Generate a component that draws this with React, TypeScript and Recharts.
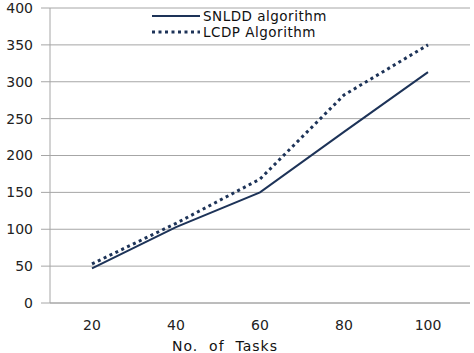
import React from 'react';
import { LineChart, Line, XAxis, YAxis, CartesianGrid, Label } from 'recharts';

// 値は図から読み取ったもの
const tasks = [20, 40, 60, 80, 100];
const snldd = [47, 103, 150, 232, 313];
const lcdp = [53, 108, 168, 282, 350];
const yTicks = [0, 50, 100, 150, 200, 250, 300, 350, 400];
const bandEdges = [10, 30, 50, 70, 90, 110];

const NAVY = '#1d3358';
const GRID = '#a6a6a6';

const data = tasks.map((t, i) => ({ tasks: t, snldd: snldd[i], lcdp: lcdp[i] }));

// 凡例は図の上に重ねる（プロット領域を押し下げないように）
const LegendBox = () => (
    <svg width={200} height={36} style={{ position: 'absolute', left: 150, top: 7 }}>
        <line x1={2} y1={9} x2={50} y2={9} stroke={NAVY} strokeWidth={2} />
        <text x={53} y={14} fontSize={13.5} letterSpacing={0.5} fontFamily="DejaVu Sans" fill="#111">SNLDD algorithm</text>
        <line x1={2} y1={25} x2={50} y2={25} stroke={NAVY} strokeWidth={3} strokeDasharray="3 3.5" />
        <text x={53} y={30} fontSize={13.5} letterSpacing={0.5} fontFamily="DejaVu Sans" fill="#111">LCDP Algorithm</text>
    </svg>
);

const App: React.FC = () => {
    return (
        <div style={{ position: 'absolute', left: 0, top: 0, width: 474, height: 353, background: '#fff' }}>
            <LineChart width={474} height={353} data={data} margin={{ top: 8, right: 4, bottom: 0, left: 0 }}>
                <CartesianGrid vertical={false} stroke={GRID} />
                {/* 区切り用の目盛り線だけの軸 */}
                <XAxis
                    xAxisId="edges"
                    type="number"
                    domain={[10, 110]}
                    ticks={bandEdges}
                    height={0}
                    axisLine={false}
                    tickLine={{ stroke: GRID }}
                    tickSize={6}
                    tickFormatter={() => ''}
                />
                <XAxis
                    dataKey="tasks"
                    type="number"
                    domain={[10, 110]}
                    ticks={tasks}
                    height={50}
                    axisLine={{ stroke: GRID }}
                    tickLine={false}
                    tickSize={0}
                    tickMargin={17}
                    tick={{ fill: '#222', fontSize: 14, fontFamily: 'DejaVu Sans' }}
                >
                    <Label
                        value={'No.\u00a0 of\u00a0 Tasks'}
                        position="insideBottom"
                        offset={2}
                        dx={-35}
                        style={{ fill: '#111', fontSize: 14, letterSpacing: 1, fontFamily: 'DejaVu Sans' }}
                    />
                </XAxis>
                <YAxis
                    domain={[0, 400]}
                    ticks={yTicks}
                    width={50}
                    axisLine={{ stroke: GRID }}
                    tickLine={{ stroke: GRID }}
                    tickSize={9}
                    tickMargin={8}
                    tick={{ fill: '#222', fontSize: 14, fontFamily: 'DejaVu Sans' }}
                />
                <Line
                    dataKey="snldd"
                    stroke={NAVY}
                    strokeWidth={2}
                    dot={false}
                    isAnimationActive={false}
                />
                <Line
                    dataKey="lcdp"
                    stroke={NAVY}
                    strokeWidth={3}
                    strokeDasharray="3 3.5"
                    dot={false}
                    isAnimationActive={false}
                />
            </LineChart>
            <LegendBox />
        </div>
    );
};

export default App;
